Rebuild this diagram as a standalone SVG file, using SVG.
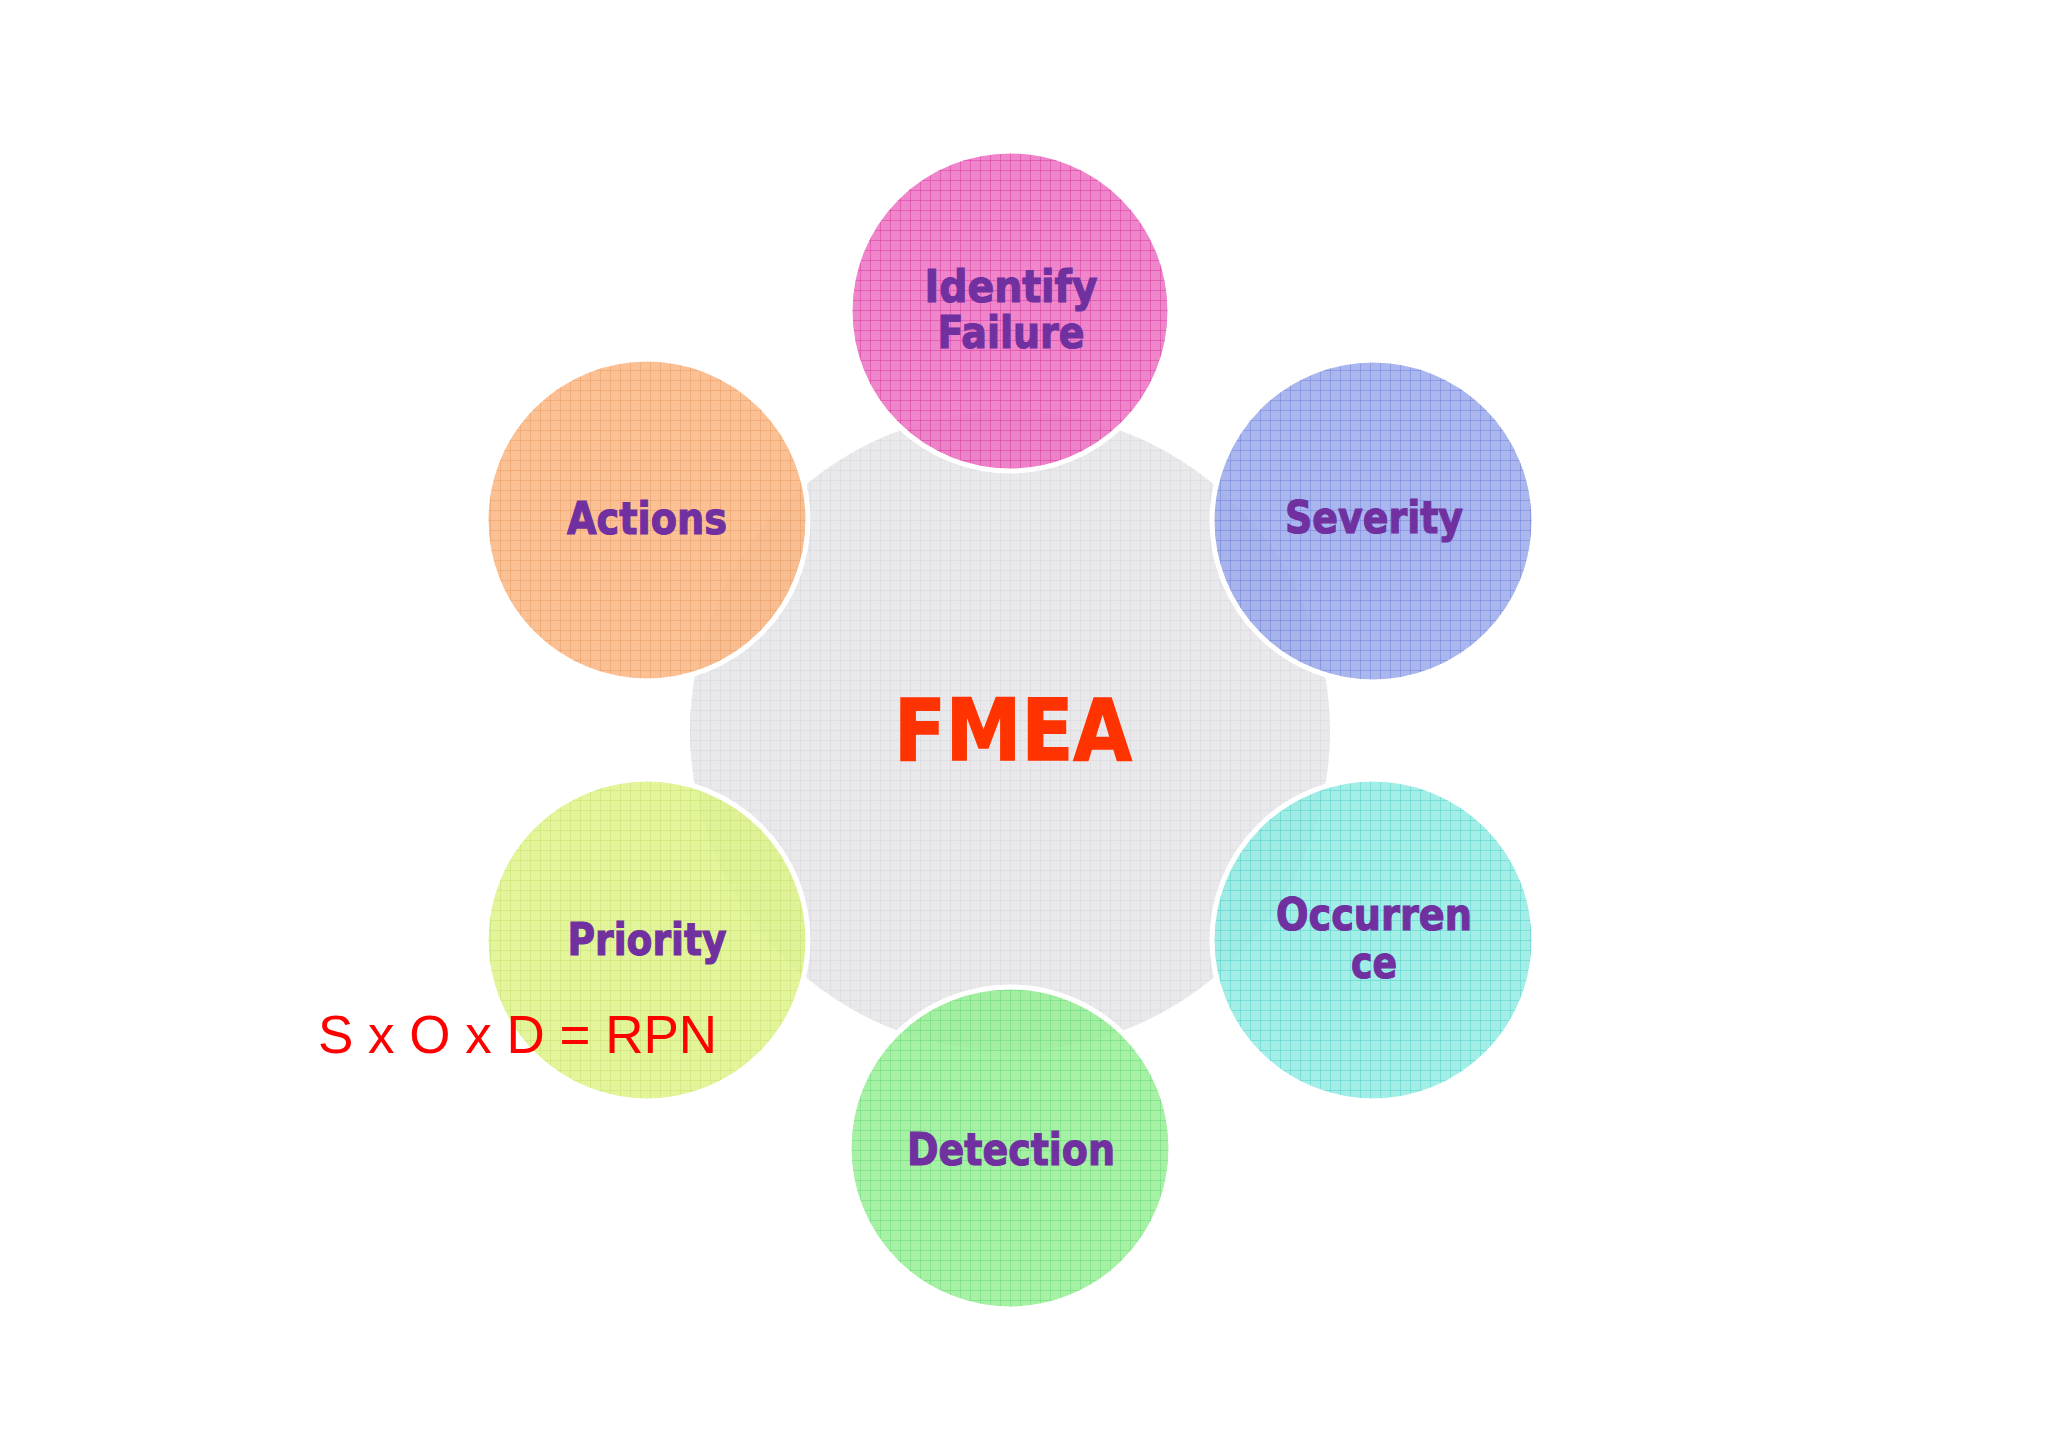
<svg xmlns="http://www.w3.org/2000/svg" width="2048" height="1448" viewBox="0 0 2048 1448">
<style>
.lbl{font-family:"DejaVu Sans","Verdana",sans-serif;font-weight:bold;font-size:44px;fill:#7030a0;stroke:#7030a0;stroke-width:1.2px;text-anchor:middle}
.title{font-family:"DejaVu Sans","Verdana",sans-serif;font-weight:bold;font-size:86px;fill:#ff3300;stroke:#ff3300;stroke-width:1.5px;text-anchor:middle}
.formula{font-family:"Liberation Sans",Arial,sans-serif;font-size:53px;fill:#ff0000}
.ring{fill:none;stroke:#ffffff;stroke-width:5}
.base{opacity:0.85}
</style>
<defs>
<pattern id="gCenter" width="10" height="10" patternUnits="userSpaceOnUse"><path d="M0 0.5H10M0.5 0V10" stroke="#d8d8de" stroke-width="1" opacity="0.6" fill="none"/></pattern>
<pattern id="gPink" width="10" height="10" patternUnits="userSpaceOnUse"><path d="M0 0.5H10M0.5 0V10" stroke="#d8409f" stroke-width="1" opacity="0.55" fill="none"/></pattern>
<pattern id="gBlue" width="10" height="10" patternUnits="userSpaceOnUse"><path d="M0 0.5H10M0.5 0V10" stroke="#7080d8" stroke-width="1" opacity="0.5" fill="none"/></pattern>
<pattern id="gCyan" width="10" height="10" patternUnits="userSpaceOnUse"><path d="M0 0.5H10M0.5 0V10" stroke="#50d0c8" stroke-width="1" opacity="0.5" fill="none"/></pattern>
<pattern id="gGreen" width="10" height="10" patternUnits="userSpaceOnUse"><path d="M0 0.5H10M0.5 0V10" stroke="#60d878" stroke-width="1" opacity="0.45" fill="none"/></pattern>
<pattern id="gYellow" width="10" height="10" patternUnits="userSpaceOnUse"><path d="M0 0.5H10M0.5 0V10" stroke="#c8e070" stroke-width="1" opacity="0.5" fill="none"/></pattern>
<pattern id="gOrange" width="10" height="10" patternUnits="userSpaceOnUse"><path d="M0 0.5H10M0.5 0V10" stroke="#e89a60" stroke-width="1" opacity="0.5" fill="none"/></pattern>
</defs>
<rect width="2048" height="1448" fill="#ffffff"/>
<g id="connectors"/>
<g id="node-fmea">
<circle cx="1010" cy="731" r="320" fill="#e9e9eb"/>
<circle cx="1010" cy="731" r="320" fill="url(#gCenter)"/>
</g>
<g id="node-identify">
<circle class="base" cx="1010" cy="311" r="158" fill="#ec71c3"/>
<circle cx="1010" cy="311" r="158" fill="url(#gPink)"/>
<circle class="ring" cx="1010" cy="311" r="160"/>
<text class="lbl" x="1011" y="302" textLength="173" lengthAdjust="spacingAndGlyphs">Identify</text>
<text class="lbl" x="1011" y="348" textLength="147" lengthAdjust="spacingAndGlyphs">Failure</text>
</g>
<g id="node-severity">
<circle class="base" cx="1373" cy="521" r="159" fill="#9ba9eb"/>
<circle cx="1373" cy="521" r="159" fill="url(#gBlue)"/>
<circle class="ring" cx="1373" cy="521" r="161"/>
<text class="lbl" x="1374" y="533" textLength="178" lengthAdjust="spacingAndGlyphs">Severity</text>
</g>
<g id="node-occurrence">
<circle class="base" cx="1373" cy="940" r="159" fill="#94ebe4"/>
<circle cx="1373" cy="940" r="159" fill="url(#gCyan)"/>
<circle class="ring" cx="1373" cy="940" r="161"/>
<text class="lbl" x="1374" y="930" textLength="196" lengthAdjust="spacingAndGlyphs">Occurren</text>
<text class="lbl" x="1374" y="978" textLength="46" lengthAdjust="spacingAndGlyphs">ce</text>
</g>
<g id="node-detection">
<circle class="base" cx="1010" cy="1148" r="159" fill="#98ef95"/>
<circle cx="1010" cy="1148" r="159" fill="url(#gGreen)"/>
<circle class="ring" cx="1010" cy="1148" r="161"/>
<text class="lbl" x="1011" y="1165" textLength="208" lengthAdjust="spacingAndGlyphs">Detection</text>
</g>
<g id="node-priority">
<circle class="base" cx="647" cy="940" r="159" fill="#ddf388"/>
<circle cx="647" cy="940" r="159" fill="url(#gYellow)"/>
<circle class="ring" cx="647" cy="940" r="161"/>
<text class="lbl" x="647" y="955" textLength="159" lengthAdjust="spacingAndGlyphs">Priority</text>
</g>
<g id="node-actions">
<circle class="base" cx="647" cy="520" r="159" fill="#fab681"/>
<circle cx="647" cy="520" r="159" fill="url(#gOrange)"/>
<circle class="ring" cx="647" cy="520" r="161"/>
<text class="lbl" x="647" y="534" textLength="160" lengthAdjust="spacingAndGlyphs">Actions</text>
</g>
<g id="label-fmea">
<text class="title" x="1013" y="760" textLength="238" lengthAdjust="spacingAndGlyphs">FMEA</text>
</g>
<g id="label-formula">
<text class="formula" x="318" y="1053">S x O x D = RPN</text>
</g>
</svg>
